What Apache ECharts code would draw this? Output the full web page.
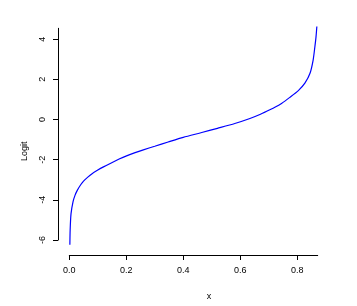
<!DOCTYPE html>
<html>
<head>
<meta charset="utf-8">
<script src="https://cdn.jsdelivr.net/npm/echarts@6/dist/echarts.min.js"></script>
<style>html,body{margin:0;padding:0;background:#fff;}#c{width:357px;height:306px;}</style>
</head>
<body>
<div id="c"></div>
<script>
const xVals = [0.002,0.003,0.006,0.013,0.02,0.028,0.04,0.05,0.065,0.08,0.1,0.12,0.149,0.175,0.201,0.231,0.26,0.3,0.347,0.4,0.465,0.52,0.581,0.634,0.669,0.693,0.72,0.745,0.774,0.804,0.827,0.845,0.856,0.862,0.866,0.869];
const yVals = [-6.24,-5.5,-4.7,-4.1,-3.78,-3.53,-3.25,-3.07,-2.87,-2.7,-2.52,-2.36,-2.15,-1.97,-1.81,-1.65,-1.51,-1.33,-1.12,-0.89,-0.65,-0.44,-0.2,0.05,0.25,0.41,0.6,0.8,1.1,1.44,1.81,2.3,2.96,3.61,4.1,4.63];
const xTicks = [0,0.2,0.4,0.6,0.8];
const yTicks = [-6,-4,-2,0,2,4];

const chart = echarts.init(document.getElementById('c'), null, {renderer:'canvas'});
const font = 'Liberation Sans, Arial, sans-serif';
chart.setOption({
  animation:false,
  backgroundColor:'#fff',
  grid:{left:69.3,right:39.3,top:28.3,bottom:63.7},
  xAxis:{
    type:'value', min:0, max:0.872, offset:15,
    name:'x', nameLocation:'middle', nameGap:37,
    nameTextStyle:{color:'#000',fontFamily:font,fontSize:9,padding:[0,0,0,31]},
    axisLine:{show:true,onZero:false,lineStyle:{color:'#000',width:1}},
    axisTick:{show:true,length:5,lineStyle:{color:'#000'},customValues:xTicks},
    axisLabel:{color:'#000',fontFamily:font,fontSize:9,margin:11,customValues:xTicks,formatter:v=>v.toFixed(1)},
    splitLine:{show:false}
  },
  yAxis:{
    type:'value', min:-6, max:4.54, offset:11.3,
    name:'Logit', nameLocation:'middle', nameGap:29, nameRotate:90,
    nameTextStyle:{color:'#000',fontFamily:font,fontSize:9,padding:[0,34,0,0]},
    axisLine:{show:true,onZero:false,lineStyle:{color:'#000',width:1}},
    axisTick:{show:true,length:5,lineStyle:{color:'#000'},customValues:yTicks},
    axisLabel:{color:'#000',fontFamily:font,fontSize:9,margin:11,rotate:90,customValues:yTicks,formatter:v=>String(v)},
    splitLine:{show:false}
  },
  series:[{
    type:'line', clip:false, showSymbol:false, smooth:0.25,
    data:xVals.map((x,i)=>[x,yVals[i]]),
    lineStyle:{color:'#0000FF',width:1.2}
  }]
});
</script>
</body>
</html>
